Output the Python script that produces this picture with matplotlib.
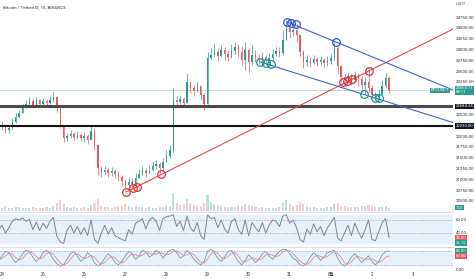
import numpy as np
import pandas as pd
import matplotlib
matplotlib.use("Agg")
import matplotlib.pyplot as plt
import matplotlib.dates as mdates
import matplotlib.transforms as mtransforms

plt.rcParams['font.family'] = ['Roboto', 'Noto Sans CJK KR']

TITLE = "Bitcoin / TetherUS, 15, BINANCE"
START = "2022-07-23 22:00"   # first bar (2h bars)
BAR = "2h"

close = [22210, 22255, 22140, 22186, 22325, 22440, 22533, 22648, 22741, 22810,
         22717, 22833, 22741, 22810, 22764, 22833, 22902, 22648, 22255, 21955,
         22001, 22048, 21978, 22024, 21955, 22001, 21909, 22117, 21793, 21262,
         21170, 21216, 21147, 21193, 21124, 21054, 20962, 20869, 20939, 20893,
         21031, 21124, 21193, 21147, 21216, 21308, 21355, 21262, 21401, 21540,
         21678, 22833, 22787, 22856, 22764, 23249, 23110, 23041, 23157, 22948,
         22741, 23803, 23873, 23942, 23850, 23988, 23896, 23826, 23965, 24058,
         23942, 23757, 23988, 23711, 23873, 23803, 23757, 23826, 23734, 23803,
         23896, 23965, 23919, 24219, 24496, 24404, 24450, 24334, 23942, 23711,
         23757, 23688, 23780, 23711, 23757, 23688, 23734, 23803, 24035, 23618,
         23365, 23318, 23388, 23295, 23410, 23318, 23179, 23249, 23110, 22948,
         22902, 22971, 23157, 23341, 23054]
high = [22302, 22348, 22279, 22255, 22417, 22533, 22602, 22741, 22833, 22902,
        22856, 22902, 22856, 22879, 22856, 22925, 23018, 22902, 22648, 22255,
        22071, 22140, 22094, 22117, 22071, 22094, 22048, 22233, 22186, 21793,
        21308, 21308, 21262, 21285, 21239, 21193, 21100, 21008, 21054, 21031,
        21147, 21239, 21308, 21262, 21331, 21424, 21447, 21401, 21493, 21678,
        21793, 23103, 22925, 22948, 22902, 23457, 23249, 23179, 23249, 23157,
        22995, 23942, 24035, 24150, 24035, 24103, 24058, 23988, 24127, 24173,
        24127, 24081, 24173, 24035, 24103, 23988, 23896, 23942, 23873, 23919,
        24012, 24058, 24058, 24450, 24681, 24658, 24635, 24589, 24358, 23988,
        23873, 23826, 23873, 23826, 23850, 23803, 23850, 23896, 24173, 24081,
        23618, 23434, 23480, 23434, 23503, 23457, 23388, 23365, 23550, 23179,
        23018, 23064, 23295, 23457, 23388]
low = [22140, 22140, 22071, 22071, 22140, 22302, 22417, 22533, 22648, 22694,
       22648, 22694, 22671, 22717, 22694, 22741, 22787, 22556, 22186, 21863,
       21886, 21955, 21909, 21932, 21886, 21863, 21817, 21909, 21678, 21100,
       21054, 21100, 21054, 21077, 21031, 20962, 20847, 20754, 20823, 20800,
       20847, 21031, 21100, 21054, 21124, 21193, 21239, 21147, 21216, 21401,
       21493, 21632, 22694, 22741, 22671, 22764, 22995, 22925, 23018, 22833,
       22602, 22741, 23757, 23826, 23734, 23826, 23757, 23734, 23803, 23896,
       23826, 23618, 23526, 23457, 23641, 23711, 23665, 23688, 23641, 23641,
       23757, 23850, 23826, 23873, 24219, 24265, 24311, 24173, 23850, 23572,
       23618, 23595, 23665, 23618, 23641, 23595, 23618, 23665, 23757, 23434,
       23249, 23203, 23226, 23179, 23272, 23157, 23018, 22971, 23018, 22879,
       22833, 22833, 22948, 23110, 22995]
first_open = 22230
volume = [3, 2.5, 3.5, 2, 2.5, 3, 2.8, 2.2, 2, 2.6, 3, 2.2, 2, 2.4, 2.8, 2.5, 4,
          6, 8, 5,
          3, 2.5, 2.8, 2.2, 2.5, 3, 2.4, 4.5,
          6, 9,
          4, 3, 2.8, 2.5, 3, 3.5, 4, 5, 3.5, 3, 4,
          3, 2.8, 2.5, 3, 2.6, 2.4, 2.8, 3, 3.5, 4,
          14,
          6, 4.5, 5, 9, 6, 4, 3.5, 4, 6,
          12, 7, 5, 4, 3.5, 3, 3.2, 2.8, 3, 3.5,
          4, 5, 4.5, 3.5, 3, 2.5, 2.8, 2.4, 2.6, 2.2, 2.5, 3,
          6, 8, 5, 4, 4.5,
          7, 5, 3.5, 3, 2.8, 2.5, 2.6, 2.4, 2.8, 3,
          5, 6,
          4, 3.5, 3, 2.8, 3, 3.2, 4, 3.5, 4.5, 3.8, 3, 2.8, 3.2, 3.5, 2.6]
rsi = [45, 52, 40, 48, 58, 62, 60, 63, 58, 61, 45, 57, 44, 55, 47, 58, 64,
       35, 26, 24,
       44, 52, 40, 50, 38, 48, 36, 60,
       30, 24,
       40, 52, 38, 48, 36, 33,
       30, 28, 45, 38, 55,
       58, 62, 46, 60, 64, 58, 44, 62, 65, 66,
       68,
       50, 58, 44, 66, 48, 42, 56, 36, 30,
       68, 62, 64, 48, 60, 46, 40, 58, 62, 45,
       38, 60, 36, 56, 48, 42, 56, 40, 52, 60, 58, 50,
       66, 68, 55, 60, 48,
       30, 26, 46, 38, 54, 42, 50, 36, 48, 56,
       64, 32,
       28, 40, 52, 36, 55, 42, 32, 45, 60, 30, 28, 42, 56, 62, 33]
stoch_k = [40, 60, 80, 75, 50, 30, 45, 70, 85, 80,
           55, 35, 50, 75, 85, 70, 45, 25, 15, 20,
           45, 70, 80, 60, 35, 50, 75, 60, 30, 15,
           25, 50, 70, 55, 30, 20, 35, 60, 80, 70,
           45, 60, 85, 80, 55, 65, 85, 75, 50, 70,
           85, 90, 75, 50, 60, 85, 70, 45, 30, 20,
           35, 80, 90, 75, 50, 35, 55, 80, 85, 60,
           35, 20, 40, 65, 50, 30, 45, 70, 80, 60,
           45, 65, 80, 90, 88, 70, 50, 40, 20, 15,
           30, 55, 75, 60, 40, 55, 75, 80, 85, 50,
           25, 15, 30, 55, 70, 50, 30, 45, 60, 35,
           20, 35, 65, 80, 82]
stoch_d = [40, 50, 60, 72, 68, 52, 42, 48, 67, 78,
           73, 57, 47, 53, 70, 77, 67, 47, 28, 20,
           27, 45, 65, 70, 58, 48, 53, 62, 55, 35,
           23, 30, 48, 58, 52, 35, 28, 38, 58, 70,
           65, 58, 63, 75, 73, 67, 68, 75, 70, 65,
           68, 82, 83, 72, 62, 65, 72, 67, 48, 32,
           28, 45, 68, 82, 72, 53, 47, 57, 73, 75,
           60, 38, 32, 42, 52, 48, 42, 48, 65, 70,
           62, 57, 63, 78, 86, 83, 69, 53, 37, 25,
           22, 33, 53, 63, 58, 52, 57, 70, 80, 72,
           53, 30, 23, 33, 52, 58, 50, 42, 45, 47,
           38, 30, 40, 55, 60]

# drawing tools
red_t = ["2022-07-27 00:30", "2022-07-27 04:30", "2022-07-27 06:45", "2022-07-27 20:45",
         "2022-08-01 07:00", "2022-08-01 09:30", "2022-08-01 12:30", "2022-08-01 22:15"]
red_p = [20708, 20800, 20823, 21124, 23249, 23272, 23318, 23503]
blue_t = ["2022-07-30 22:30", "2022-07-31 00:45", "2022-07-31 03:45", "2022-08-01 03:00"]
blue_p = [24635, 24612, 24589, 24173]
teal_t = ["2022-07-30 06:45", "2022-07-30 10:15", "2022-07-30 13:00",
          "2022-08-01 19:30", "2022-08-02 01:45", "2022-08-02 04:15"]
teal_p = [23711, 23688, 23665, 22971, 22879, 22879]

levels = [22684.24, 22230.00]
last_price = 23053.71
countdown = "08:11"
price_ticks = list(range(20500, 24751, 250))
hidden_ticks = [23000, 22750, 22250]   # covered by the price tags
day_ticks = pd.date_range("2022-07-24", "2022-08-03", freq="D")
day_labels = ["24", "25", "26", "27", "28", "29", "30", "31", "8월", "2", "3"]

UP, DOWN = "#2a9d90", "#e8575f"
W, H = 474, 279

fig = plt.figure(figsize=(W / 100, H / 100), dpi=100)


def rect(top, bottom):
    return [0, 1 - bottom / H, 453 / W, (bottom - top) / H]


axv = fig.add_axes(rect(0, 211))
ax = fig.add_axes(rect(0, 211))
ax_rsi = fig.add_axes(rect(212, 246))
ax_st = fig.add_axes(rect(247, 270))
axv.set_zorder(0)
ax.set_zorder(1)
ax.patch.set_visible(False)

times = pd.date_range(START, periods=len(close), freq=BAR)
x = mdates.date2num(times)
c = np.array(close, float)
o = np.r_[first_open, c[:-1]]
cols = np.where(c >= o, UP, DOWN)

xlim = (mdates.date2num(pd.Timestamp("2022-07-23 22:50")),
        mdates.date2num(pd.Timestamp("2022-08-03 23:20")))

# candles
ax.vlines(x, low, high, colors=cols, lw=0.5, zorder=2)
body = np.maximum(np.abs(c - o), 10)
ax.bar(x, body, bottom=np.minimum(o, c), width=0.035, color=cols, zorder=2)

# volume
axv.bar(x, volume, width=0.05, color=cols, alpha=0.3)
axv.set_ylim(0, 160)
axv.set_xlim(*xlim)
axv.axis("off")

# horizontal levels
ax.axhline(levels[0], color="#4a4a4a", lw=2.2, zorder=3)
ax.axhline(levels[1], color="#141414", lw=1.5, zorder=3)
ax.axhline(last_price, color=UP, lw=0.5, alpha=0.45, zorder=1)


def ray(t1, p1, t2, p2, color):
    x1, x2 = mdates.date2num(pd.Timestamp(t1)), mdates.date2num(pd.Timestamp(t2))
    slope = (p2 - p1) / (x2 - x1)
    ax.plot([x1, xlim[1]], [p1, p1 + slope * (xlim[1] - x1)], color=color, lw=0.8, zorder=3)


ray(red_t[0], red_p[0], red_t[-1], red_p[-1], "#f0424f")
ray(blue_t[0], blue_p[0], blue_t[-1], blue_p[-1], "#4262c9")
ray(teal_t[0], teal_p[0], teal_t[-2], teal_p[-2], "#4262c9")

for ts, ps, col in [(red_t, red_p, "#e0303f"), (blue_t, blue_p, "#2f55d4"),
                    (teal_t, teal_p, "#13998a")]:
    ax.plot(mdates.date2num(pd.to_datetime(ts)), ps, "o", ms=5.5, mfc="none",
            mec=col, mew=0.9, zorder=4)

ax.set_xlim(*xlim)
ax.set_ylim(20269, 25143)
ax.yaxis.tick_right()
ax.set_yticks(price_ticks)
ax.set_yticklabels(["" if p in hidden_ticks else f"{p:.2f}" for p in price_ticks])
ax.set_xticks([])

# RSI panel
ax_rsi.plot(x, rsi, color="#80838c", lw=0.7)
ax_rsi.axhspan(25, 68, color="#e6f1fc", zorder=0)
for v in (60, 40):
    ax_rsi.axhline(v, color="#9ea1aa", lw=0.5, ls=(0, (2, 2)))
ax_rsi.set_ylim(20, 72.3)
ax_rsi.set_xlim(*xlim)
ax_rsi.yaxis.tick_right()
ax_rsi.set_yticks([60, 40])
ax_rsi.set_yticklabels(["60.00", "40.00"])
ax_rsi.set_xticks([])

# Stoch panel
ax_st.plot(x, stoch_k, color="#6f9c9a", lw=0.6)
ax_st.plot(x, stoch_d, color="#e58a92", lw=0.6)
ax_st.axhspan(20, 80, color="#e6f1fc", zorder=0)
for v in (80, 20):
    ax_st.axhline(v, color="#9ea1aa", lw=0.5, ls=(0, (2, 2)))
ax_st.set_ylim(-3, 100)
ax_st.set_xlim(*xlim)
ax_st.yaxis.tick_right()
ax_st.set_yticks([0])
ax_st.set_yticklabels(["0.00"])
ax_st.set_xticks(mdates.date2num(day_ticks))
ax_st.set_xticklabels(day_labels, family=['Noto Sans CJK KR', 'DejaVu Sans'])

for a in (ax, ax_rsi, ax_st):
    for s in a.spines.values():
        s.set_visible(False)
    a.tick_params(length=0, labelsize=3.2, labelcolor="#2a2e39", pad=2)
ax_st.tick_params(axis="x", pad=1.2)
for a in (ax_rsi, ax_st):
    a.spines["top"].set_visible(True)
    a.spines["top"].set_color("#d6d9e0")
    a.spines["top"].set_linewidth(0.6)


def tag(a, y, text, fc, xpos=1.006, ha="left"):
    tr = mtransforms.blended_transform_factory(a.transAxes, a.transData)
    a.text(xpos, y, text, transform=tr, ha=ha, va="center", fontsize=3.1,
           color="white", zorder=10, clip_on=False, linespacing=1.0,
           bbox=dict(boxstyle="square,pad=0.2", fc=fc, ec="none"))


tag(ax, last_price, f"{last_price:.2f}\n{countdown}", UP)
tag(ax, last_price, "BTCUSDT", UP, xpos=0.992, ha="right")
tag(ax, levels[0], f"{levels[0]:.2f}", "#131722")
tag(ax, levels[1], f"{levels[1]:.2f}", "#131722")
tag(axv, volume[-1], "765", UP)
tag(ax_rsi, rsi[-1], f"{rsi[-1]:.2f}", DOWN)
tag(ax_rsi, 25, "26.12", "#1e9c8e")
tag(ax_st, stoch_k[-1], f"{stoch_k[-1]:.2f}", "#1e9c8e")
tag(ax_st, stoch_d[-1], f"{stoch_d[-1]:.2f}", DOWN)

fig.text(3 / W, 1 - 7 / H, TITLE, fontsize=3.2, color="#2a2e39", va="center")
fig.text(456 / W, 1 - 4 / H, "USDT", fontsize=3, color="#555555", va="center")

fig.savefig("out.png", dpi=100)
